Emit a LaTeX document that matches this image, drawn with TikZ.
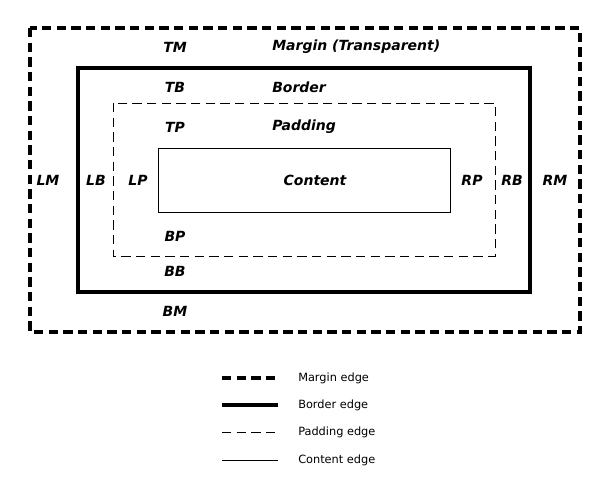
\documentclass[tikz,border=0pt]{standalone}
\usepackage{fontspec}
\setmainfont{DejaVu Sans}
\usepackage{tikz}

\begin{document}
\begin{tikzpicture}
        [x=0.75pt,y=-0.75pt,
         lbl/.style={font=\fontsize{10.5}{12}\selectfont\bfseries\itshape,inner sep=0pt},
         key/.style={font=\fontsize{8.5}{10}\selectfont,anchor=west,inner sep=0pt},
         marginedge/.style={line width=2.6pt,dash pattern=on 7pt off 4pt},
         borderedge/.style={line width=2.6pt},
         paddingedge/.style={line width=0.7pt,dash pattern=on 7pt off 4pt},
         contentedge/.style={line width=0.7pt}]
        \useasboundingbox (0,0) rectangle (608,488);

        \draw[marginedge] (30,28) rectangle (580,332);
        \draw[borderedge] (78,68) rectangle (530,292);
        \draw[paddingedge] (113,103) rectangle (495,256);
        \draw[contentedge] (158,148) rectangle (450,212);

        \node[lbl] (tm) at (175,47) {TM};
        \node[lbl,anchor=west] (mt) at (272,47) {Margin (Transparent)};
        \node[lbl] (tb) at (175,87) {TB};
        \node[lbl,anchor=west] (bt) at (272,87) {Border};
        \node[lbl] (tp) at (175,127) {TP};
        \node[lbl,anchor=west] (pt) at (272,127) {Padding};
        \node[lbl] (ct) at (315,180) {Content};
        \node[lbl] (lm) at (48,180) {LM};
        \node[lbl] (lb) at (96,180) {LB};
        \node[lbl] (lp) at (138,180) {LP};
        \node[lbl] (rp) at (472,180) {RP};
        \node[lbl] (rb) at (512,180) {RB};
        \node[lbl] (rm) at (555,180) {RM};
        \node[lbl] (bp) at (175,236) {BP};
        \node[lbl] (bb) at (175,271) {BB};
        \node[lbl] (bm) at (175,311) {BM};

        % legend
        \coordinate (k1a) at (222,378); \coordinate (k1b) at (278,378);
        \coordinate (k2a) at (222,405); \coordinate (k2b) at (278,405);
        \coordinate (k3a) at (222,432); \coordinate (k3b) at (278,432);
        \coordinate (k4a) at (222,460); \coordinate (k4b) at (278,460);
        \draw[marginedge] (k1a) -- (k1b);
        \draw[borderedge] (k2a) -- (k2b);
        \draw[paddingedge] (k3a) -- (k3b);
        \draw[contentedge] (k4a) -- (k4b);
        \node[key] (km) at (298,378) {Margin edge};
        \node[key] (kb) at (298,405) {Border edge};
        \node[key] (kp) at (298,432) {Padding edge};
        \node[key] (kc) at (298,460) {Content edge};
\end{tikzpicture}
\end{document}
